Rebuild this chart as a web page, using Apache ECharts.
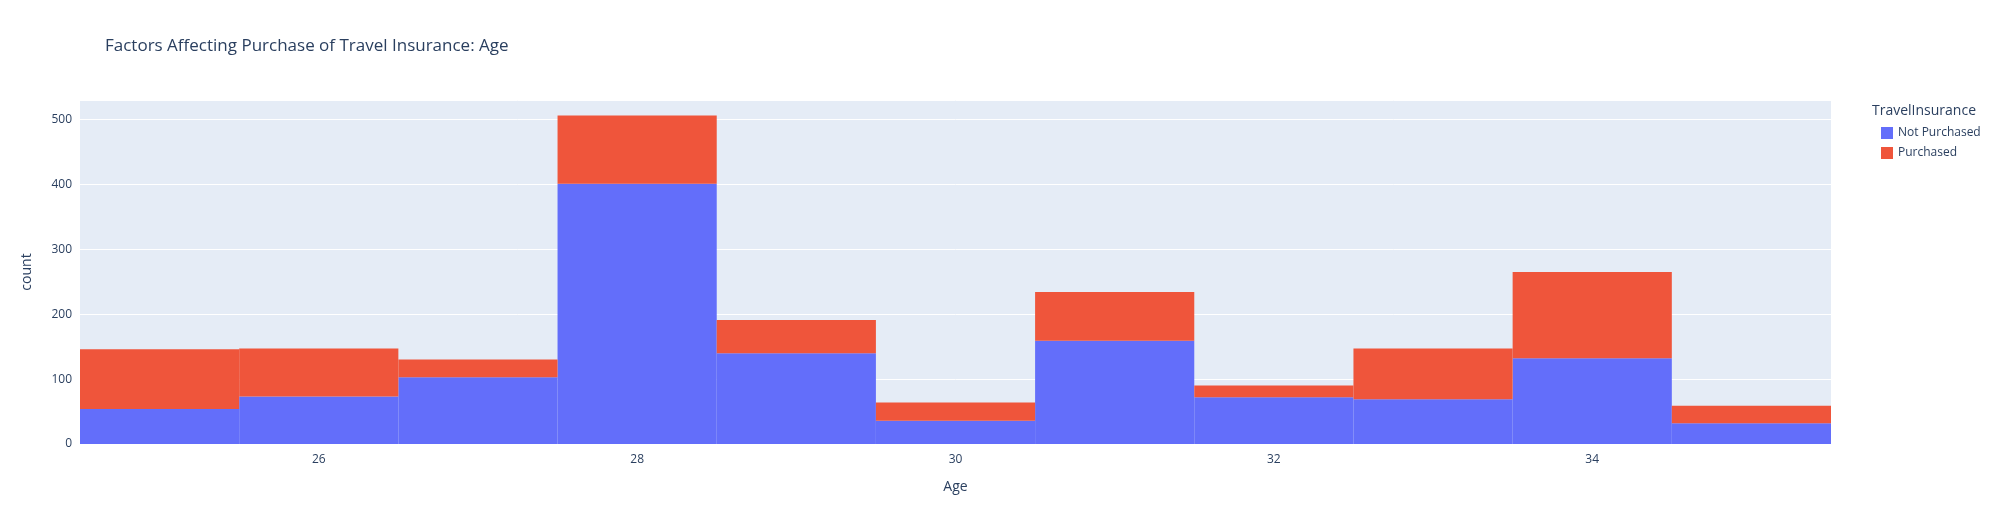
<!DOCTYPE html>
<html><head><meta charset="utf-8">
<script src="https://cdn.jsdelivr.net/npm/echarts@6/dist/echarts.min.js"></script>
<style>html,body{margin:0;padding:0;background:#fff}#c{width:2011px;height:525px}</style>
</head><body><div id="c"></div>
<script>
const ages = ['25','26','27','28','29','30','31','32','33','34','35'];
const notPurchased = [54, 73, 103, 401, 140, 36, 159, 72, 69, 132, 32];
const purchased = [92, 74, 27, 105, 51, 28, 75, 18, 78, 133, 27];
const yTicks = [0, 100, 200, 300, 400, 500];
const font = '"Open Sans", Arial, sans-serif';
const chart = echarts.init(document.getElementById('c'));
chart.setOption({
  animation: false,
  title: {text: 'Factors Affecting Purchase of Travel Insurance: Age', left: 100, top: 33,
    textStyle: {fontFamily: font, fontSize: 17, fontWeight: 'normal', color: '#2a3f5f'}},
  legend: {orient: 'vertical', left: 1876, top: 122, itemWidth: 12, itemHeight: 12, itemGap: 8,
    icon: 'rect', textStyle: {fontFamily: font, fontSize: 12, color: '#2a3f5f'},
    data: ['Not Purchased', 'Purchased']},
  graphic: [{type: 'text', left: 1872, top: 104, style: {text: 'TravelInsurance', font: '14px ' + font, fill: '#2a3f5f'}},
    {type: 'rect', shape: {x: 80, y: 100, width: 1751, height: 344}, style: {fill: '#e5ecf6'}, z: -10}],
  grid: {left: 80, right: 180, top: 100, bottom: 81, containLabel: false},
  xAxis: {type: 'category', data: ages, name: 'Age', nameLocation: 'middle', nameGap: 36,
    nameTextStyle: {fontFamily: font, fontSize: 14, color: '#2a3f5f'},
    axisLine: {show: false}, axisTick: {show: false},
    axisLabel: {fontFamily: font, fontSize: 12, color: '#2a3f5f', margin: 10,
      interval: (i, v) => (+v) % 2 === 0}},
  yAxis: {type: 'value', min: 0, max: 530, interval: 100, name: 'count', nameLocation: 'middle', nameGap: 46,
    nameTextStyle: {fontFamily: font, fontSize: 14, color: '#2a3f5f'},
    axisLabel: {fontFamily: font, fontSize: 12, color: '#2a3f5f', margin: 8,
      formatter: v => yTicks.includes(v) ? String(v) : ''},
    splitLine: {lineStyle: {color: '#fff', width: 1}}, axisLine: {show: false}, axisTick: {show: false}},
  series: [
    {name: 'Not Purchased', type: 'bar', stack: 'a', data: notPurchased, barCategoryGap: '0%', itemStyle: {color: '#636efa'}},
    {name: 'Purchased', type: 'bar', stack: 'a', data: purchased, barCategoryGap: '0%', itemStyle: {color: '#ef553b'}}
  ]
});
</script></body></html>
